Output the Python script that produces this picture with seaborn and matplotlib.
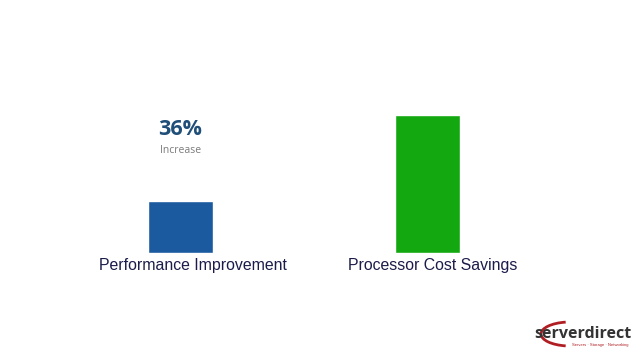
import matplotlib
matplotlib.use("Agg")
import matplotlib.pyplot as plt
import seaborn as sns
from matplotlib.patches import Arc


# data

categories = ["Performance Improvement", "Processor Cost Savings"]
values = [36, 95]
bar_colors = ["#1b5a9e", "#13a80f"]
callout_value = "36%"
callout_text = "Increase"


# figure

sns.set_theme(style="white")
plt.rcParams["font.family"] = ["Liberation Sans", "DejaVu Sans"]

fig = plt.figure(figsize=(6.4, 3.6), dpi=100)
ax = fig.add_axes([0, (360 - 253) / 360, 1, 253 / 360])

sns.barplot(
    x=categories,
    y=values,
    hue=categories,
    palette=bar_colors,
    width=0.263,
    legend=False,
    saturation=1,
    ax=ax,
)

ax.set_xlim(-180.5 / 247, (640 - 180.5) / 247)
ax.set_ylim(0, values[1] * 253 / 138)
ax.axis("off")
ytop = ax.get_ylim()[1]


# category labels under bars

for i, cat in enumerate(categories):
    ax.text(i + 0.05 - 0.03 * i, -0.051 * ytop, cat,
            ha="center", va="center", fontsize=11.4, color="#1c1c4a")


# callout above first bar

ax.text(0, values[0] + 0.28 * ytop, callout_value,
        ha="center", va="center", fontsize=15.5, fontweight="bold",
        color="#1f4e79", family=["Open Sans", "DejaVu Sans"])
ax.text(0, values[0] + 0.20 * ytop, callout_text,
        ha="center", va="center", fontsize=7.5, color="#7a7a7a",
        family=["Open Sans", "DejaVu Sans"])


# logo

fig.text(583 / 640, 1 - 334 / 360, "serverdirect", ha="center", va="center",
         fontsize=11.5, fontweight="bold", color="#333333",
         family=["Open Sans", "DejaVu Sans"])
fig.text(600 / 640, 1 - 345 / 360, "Servers · Storage · Networking",
         ha="center", va="center", fontsize=3, color="#b01e23")
logo_ax = fig.add_axes([0, 0, 1, 1], zorder=-1)
logo_ax.set_xlim(0, 640)
logo_ax.set_ylim(360, 0)
logo_ax.axis("off")
logo_ax.add_patch(Arc((570, 334), 58, 24, theta1=110, theta2=250,
                      color="#b01e23", lw=2))

fig.savefig("out.png", dpi=100, facecolor="white")
